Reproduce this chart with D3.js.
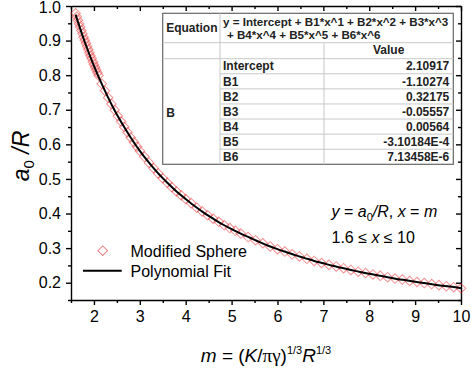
<!DOCTYPE html>
<html>
<head>
<meta charset="UTF-8">
<script src="https://cdnjs.cloudflare.com/ajax/libs/d3/7.8.5/d3.min.js"></script>
<style>
    body { margin: 0; background: #fff; }
    svg { font-family: "Liberation Sans", Arial, sans-serif; }
    .axis text { font-size: 16px; fill: #000; }
    .axis path, .axis line { stroke: #000; stroke-width: 1.4; }
    .tbl text { font-size: 12px; font-weight: bold; fill: #222; }
    .tbl text.eq { font-size: 11.6px; }
</style>
</head>
<body>
<div id="chart"></div>
<script>
// Modified Sphere points (m, a0/R)
const sphereX = [1.600, 1.625, 1.650, 1.675, 1.700, 1.725, 1.750, 1.775, 1.800, 1.825,
    1.850, 1.875, 1.900, 1.925, 1.950, 1.975, 2.000, 2.025, 2.050, 2.075, 2.100,
    2.17, 2.24, 2.31, 2.38, 2.45, 2.52, 2.59, 2.66, 2.73, 2.80, 2.87, 2.94,
    3.00, 3.10, 3.20, 3.30, 3.40, 3.50, 3.60, 3.70, 3.80, 3.90, 4.00,
    4.12, 4.24, 4.36, 4.48, 4.60, 4.72, 4.84, 4.96, 5.08, 5.20,
    5.36, 5.52, 5.68, 5.84, 6.00, 6.16, 6.32, 6.48, 6.64, 6.80, 6.96, 7.12, 7.28,
    7.44, 7.60, 7.76, 7.92, 8.08, 8.24, 8.40, 8.56, 8.72, 8.88, 9.04, 9.20, 9.36,
    9.52, 9.68, 9.84, 10.00];
const sphereY = [0.979, 0.969, 0.959, 0.949, 0.939, 0.929, 0.920, 0.910, 0.901, 0.892,
    0.883, 0.874, 0.865, 0.856, 0.848, 0.839, 0.831, 0.823, 0.815, 0.807, 0.799,
    0.775, 0.755, 0.735, 0.717, 0.699, 0.682, 0.666, 0.650, 0.635, 0.620, 0.606, 0.593,
    0.581, 0.564, 0.547, 0.531, 0.516, 0.502, 0.489, 0.476, 0.464, 0.453, 0.442,
    0.430, 0.417, 0.406, 0.395, 0.385, 0.376, 0.366, 0.358, 0.350, 0.342,
    0.332, 0.323, 0.314, 0.305, 0.297, 0.290, 0.282, 0.276, 0.269, 0.263, 0.257, 0.252, 0.247,
    0.242, 0.237, 0.232, 0.228, 0.224, 0.220, 0.216, 0.212, 0.209, 0.205, 0.202, 0.199, 0.196,
    0.193, 0.190, 0.187, 0.184];

// Polynomial fit curve
const fitX = [1.6, 1.8, 2.0, 2.2, 2.4, 2.6, 2.8, 3.0, 3.2, 3.4, 3.6, 3.8, 4.0, 4.2, 4.4,
    4.6, 4.8, 5.0, 5.2, 5.4, 5.6, 5.8, 6.0, 6.2, 6.4, 6.6, 6.8, 7.0, 7.2, 7.4, 7.6,
    7.8, 8.0, 8.2, 8.4, 8.6, 8.8, 9.0, 9.2, 9.4, 9.6, 9.8, 10.0];
const fitY = [0.975, 0.896, 0.827, 0.766, 0.711, 0.663, 0.620, 0.581, 0.547, 0.516, 0.489,
    0.464, 0.442, 0.421, 0.402, 0.385, 0.369, 0.355, 0.342, 0.330, 0.318, 0.307, 0.297,
    0.288, 0.279, 0.271, 0.263, 0.256, 0.249, 0.243, 0.237, 0.231, 0.226, 0.221, 0.216,
    0.211, 0.207, 0.203, 0.199, 0.195, 0.191, 0.188, 0.184];

const xTicks = [2, 3, 4, 5, 6, 7, 8, 9, 10];
const xMinor = [1.5, 2.5, 3.5, 4.5, 5.5, 6.5, 7.5, 8.5, 9.5];
const yTicks = [0.2, 0.3, 0.4, 0.5, 0.6, 0.7, 0.8, 0.9, 1.0];
const yMinor = [0.15, 0.25, 0.35, 0.45, 0.55, 0.65, 0.75, 0.85, 0.95];

// fit parameter table
const equationLines = ['y = Intercept + B1*x^1 + B2*x^2 + B3*x^3', '+ B4*x^4 + B5*x^5 + B6*x^6'];
const paramNames = ['Intercept', 'B1', 'B2', 'B3', 'B4', 'B5', 'B6'];
const paramValues = ['2.10917', '-1.10274', '0.32175', '-0.05557', '0.00564', '-3.10184E-4', '7.13458E-6'];

const width = 474;
const height = 369;
const margin = {top: 6, right: 13, bottom: 69, left: 71};

const svg = d3.select('#chart')
    .append('svg')
    .attr('width', width)
    .attr('height', height);

const x = d3.scaleLinear()
    .domain([1.5, 10])
    .range([margin.left, width - margin.right]);

const y = d3.scaleLinear()
    .domain([0.15, 1.0])
    .range([height - margin.bottom, margin.top]);

const x0 = margin.left, x1 = width - margin.right;
const y0 = height - margin.bottom, y1 = margin.top;

// minor ticks first (no labels)
function minor(axis, vals, tr) {
    svg.append('g').attr('class', 'axis').attr('transform', tr)
        .call(axis.tickValues(vals).tickFormat('').tickSizeOuter(0))
        .select('.domain').remove();
}
minor(d3.axisBottom(x).tickSize(3), xMinor, `translate(0,${y0})`);
minor(d3.axisTop(x).tickSize(-3), xMinor, `translate(0,${y1})`);
minor(d3.axisLeft(y).tickSize(3), yMinor, `translate(${x0},0)`);
minor(d3.axisRight(y).tickSize(-3), yMinor, `translate(${x1},0)`);

// major axes
svg.append('g').attr('class', 'axis')
    .attr('transform', `translate(0,${y0})`)
    .call(d3.axisBottom(x).tickValues(xTicks).tickSize(5).tickSizeOuter(0).tickPadding(6));
svg.append('g').attr('class', 'axis')
    .attr('transform', `translate(0,${y1})`)
    .call(d3.axisTop(x).tickValues(xTicks).tickSize(-5).tickSizeOuter(0).tickFormat(''));
const yAx = svg.append('g').attr('class', 'axis')
    .attr('transform', `translate(${x0},0)`)
    .call(d3.axisLeft(y).tickValues(yTicks).tickSize(5).tickSizeOuter(0).tickPadding(5).tickFormat(d3.format('.1f')));
yAx.selectAll('text').filter(d => d === 1.0).attr('dy', '0.42em');
svg.append('g').attr('class', 'axis')
    .attr('transform', `translate(${x1},0)`)
    .call(d3.axisRight(y).tickValues(yTicks).tickSize(-5).tickSizeOuter(0).tickFormat(''));

// data markers
const diamond = d3.symbol().type(d3.symbolSquare).size(46);
svg.append('g')
    .selectAll('path')
    .data(sphereX.map((d, i) => [d, sphereY[i]]))
    .enter()
    .append('path')
    .attr('d', diamond)
    .attr('transform', d => `translate(${x(d[0])},${y(d[1])}) rotate(45)`)
    .attr('fill', 'none')
    .attr('stroke', '#e8262a')
    .attr('stroke-opacity', 0.5)
    .attr('stroke-width', 1);

// fit line
const line = d3.line()
    .x(d => x(d[0]))
    .y(d => y(d[1]))
    .curve(d3.curveCatmullRom);
svg.append('path')
    .datum(fitX.map((d, i) => [d, fitY[i]]))
    .attr('d', line)
    .attr('fill', 'none')
    .attr('stroke', '#000')
    .attr('stroke-width', 2);

// parameter table
const tb = svg.append('g').attr('class', 'tbl');
const tL = 162.7, tR = 453.3, tT = 13.3, tB = 164.3;
const c1 = 220, c2 = 324;
const rEq = 42.7, rVal = 58.7, rowH = (tB - rVal) / paramNames.length;
tb.append('rect').attr('x', tL).attr('y', tT).attr('width', tR - tL).attr('height', tB - tT)
    .attr('fill', '#fff').attr('stroke', '#666').attr('stroke-width', 1.2);
const gridLines = [[c1, tT, c1, tB], [c2, rEq, c2, tB], [tL, rEq, tR, rEq], [tL, rVal, tR, rVal]];
paramNames.forEach((n, i) => {
    if (i > 0) gridLines.push([c1, rVal + i * rowH, tR, rVal + i * rowH]);
});
tb.selectAll('line').data(gridLines).enter().append('line')
    .attr('x1', d => d[0]).attr('y1', d => d[1]).attr('x2', d => d[2]).attr('y2', d => d[3])
    .attr('stroke', '#c8c8c8').attr('stroke-width', 1);
tb.append('text').attr('x', tL + 3.5).attr('y', 31.5).text('Equation');
tb.append('text').attr('class', 'eq').attr('x', c1 + 3).attr('y', 26.2).text(equationLines[0]);
tb.append('text').attr('class', 'eq').attr('x', c1 + 7).attr('y', 38.8).text(equationLines[1]);
tb.append('text').attr('x', (c2 + tR) / 2).attr('y', 54.3).attr('text-anchor', 'middle').text('Value');
tb.append('text').attr('x', tL + 3.5).attr('y', 116.7).text('B');
tb.selectAll('.pn').data(paramNames).enter().append('text')
    .attr('x', c1 + 3).attr('y', (d, i) => rVal + (i + 1) * rowH - 3.3).text(d => d);
tb.selectAll('.pv').data(paramValues).enter().append('text')
    .attr('x', tR - 4).attr('y', (d, i) => rVal + (i + 1) * rowH - 3.3)
    .attr('text-anchor', 'end').text(d => d);

// annotation
const ann = svg.append('g').style('font-size', '16px');
const a1 = ann.append('text').attr('x', 331.5).attr('y', 216.7);
a1.append('tspan').attr('font-style', 'italic').text('y');
a1.append('tspan').text(' = ');
a1.append('tspan').attr('font-style', 'italic').text('a');
a1.append('tspan').attr('font-size', '11px').attr('dy', 4).text('0');
a1.append('tspan').attr('font-style', 'italic').attr('dy', -4).text('/R');
a1.append('tspan').text(', ');
a1.append('tspan').attr('font-style', 'italic').text('x');
a1.append('tspan').text(' = ');
a1.append('tspan').attr('font-style', 'italic').text('m');
const a2 = ann.append('text').attr('x', 331.5).attr('y', 243.3);
a2.append('tspan').text('1.6 \u2264 ');
a2.append('tspan').attr('font-style', 'italic').text('x');
a2.append('tspan').text(' \u2264 10');

// legend
const lg = svg.append('g').style('font-size', '16px');
lg.append('path').attr('d', diamond)
    .attr('transform', 'translate(102.7,250.7) rotate(45)')
    .attr('fill', 'none').attr('stroke', '#e8262a').attr('stroke-opacity', 0.6).attr('stroke-width', 1);
lg.append('text').attr('x', 130.5).attr('y', 256.5).text('Modified Sphere');
lg.append('line').attr('x1', 83).attr('x2', 121.7).attr('y1', 270.7).attr('y2', 270.7)
    .attr('stroke', '#000').attr('stroke-width', 2);
lg.append('text').attr('x', 130.5).attr('y', 276.7).text('Polynomial Fit');

// axis titles
const xt = svg.append('text').attr('x', (x0 + x1) / 2).attr('y', 361.5)
    .attr('text-anchor', 'middle').style('font-size', '19px');
xt.append('tspan').attr('font-style', 'italic').text('m');
xt.append('tspan').text(' = (');
xt.append('tspan').attr('font-style', 'italic').text('K');
xt.append('tspan').text('/');
xt.append('tspan').attr('font-family', '"Liberation Serif", serif').text('\u03c0\u03b3');
xt.append('tspan').text(')');
xt.append('tspan').attr('font-size', '11px').attr('dy', -8).text('1/3');
xt.append('tspan').attr('font-style', 'italic').attr('dy', 8).text('R');
xt.append('tspan').attr('font-size', '11px').attr('dy', -8).text('1/3');

const yt = svg.append('text')
    .attr('transform', 'translate(29,156) rotate(-90)')
    .attr('text-anchor', 'middle').style('font-size', '23px');
yt.append('tspan').attr('font-style', 'italic').text('a');
yt.append('tspan').attr('font-size', '15px').attr('dy', 5).text('0');
yt.append('tspan').attr('font-style', 'italic').attr('dy', -5).text(' /R');
</script>
</body>
</html>
